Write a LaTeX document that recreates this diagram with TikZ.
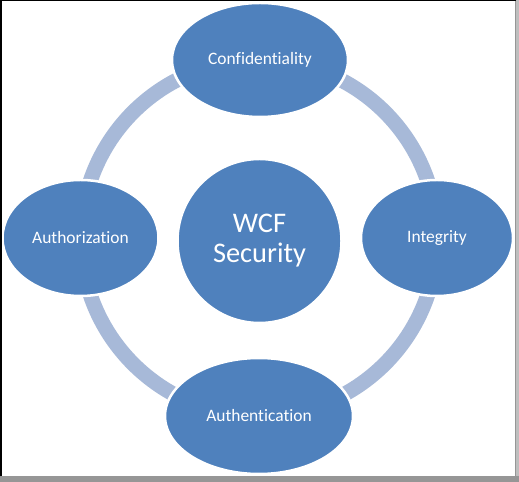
\documentclass[tikz,border=0pt]{standalone}
\usepackage{fontspec}
\setmainfont{Carlito}[Ligatures=NoCommon]
\usetikzlibrary{shapes.geometric}
\definecolor{nodeblue}{RGB}{79,129,189}
\definecolor{ringblue}{RGB}{167,185,216}
\definecolor{framegray}{RGB}{150,150,150}
\definecolor{edgegray}{RGB}{190,190,190}
\begin{document}
\begin{tikzpicture}[x=1bp,y=1bp,
  petal/.style={ellipse, fill=nodeblue, draw=white, line width=2.5bp, text=white,
    inner sep=0pt, font=\fontsize{17.5}{21}\selectfont},
  hubnode/.style={circle, fill=nodeblue, draw=white, line width=2.5bp, text=white,
    inner sep=0pt, minimum size=164bp, align=center, font=\fontsize{28.5}{30}\selectfont},
  ringline/.style={draw=ringblue, line width=15bp}]
\useasboundingbox (0,0) rectangle (519,482);
\fill[white] (0,0) rectangle (519,482);
% ring
\coordinate (ringc) at (259,244);
\draw[ringline] (ringc) circle (178);
% nodes
\node[hubnode] (hub) at (259.5,241) {WCF\\Security};
\node[petal, minimum width=176bp, minimum height=114bp] (conf) at (260,422) {Confidentiality};
\node[petal, minimum width=156bp, minimum height=116bp] (authz) at (80.5,244) {Authorization};
\node[petal, minimum width=152bp, minimum height=116bp] (integ) at (437,244) {Integrity};
\node[petal, minimum width=188bp, minimum height=116bp] (authn) at (259,66) {Authentication};
% frame
\fill[edgegray] (515.5,0) rectangle (519,482);
\draw[framegray, line width=1bp] (515.5,0) -- (515.5,482);
\fill[framegray] (0,0) rectangle (519,5.5);
\draw[black, line width=1.5bp] (0,481.25) -- (515.5,481.25);
\draw[black, line width=1.5bp] (0.75,5.5) -- (0.75,482);
\end{tikzpicture}
\end{document}
